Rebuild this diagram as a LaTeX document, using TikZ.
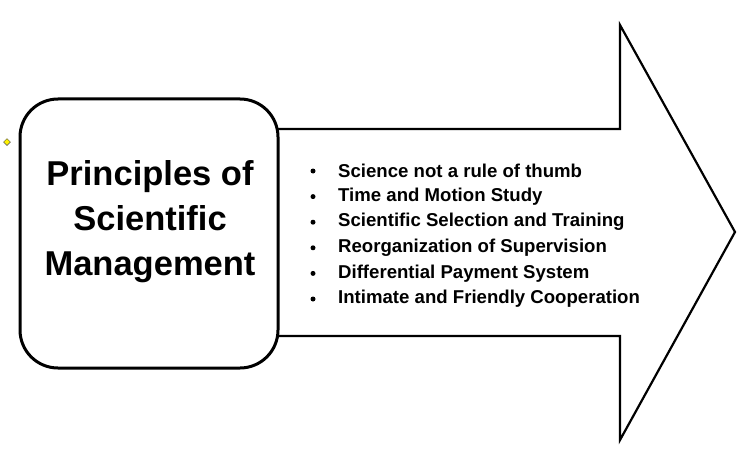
\documentclass[tikz,border=0pt]{standalone}
\usepackage{fontspec}
\setmainfont{Liberation Sans}
\usetikzlibrary{shapes.geometric}
\begin{document}
\begin{tikzpicture}[x=1pt,y=-1pt,
  bigarrow/.style={draw=black,line width=2.2pt,fill=white,line join=miter},
  titlebox/.style={draw=black,line width=3pt,fill=white,rounded corners=38pt},
  item/.style={anchor=west,font=\bfseries\fontsize{18.6pt}{20pt}\selectfont,inner sep=0pt},
  dot/.style={circle,fill=black,inner sep=0pt,minimum size=5pt},
  handle/.style={diamond,draw=black!70,fill=yellow,inner sep=0pt,minimum size=7pt,line width=0.5pt}]
\useasboundingbox (0,0) rectangle (746,468);
\draw[bigarrow] (200,129) -- (620,129) -- (620,25) -- (735,232) -- (620,440) -- (620,336) -- (200,336) -- cycle;
\draw[titlebox] (20,99) rectangle (278,368);
\node[align=center,font=\bfseries\fontsize{34.5pt}{45pt}\selectfont] (title) at (150,222) {Principles of\\Scientific\\Management};
\foreach \t [count=\i] in {Science not a rule of thumb,Time and Motion Study,Scientific Selection and Training,Reorganization of Supervision,Differential Payment System,Intimate and Friendly Cooperation}{
  \node[dot] (b\i) at (313,{171+25.6*(\i-1)}) {};
  \node[item] (t\i) at (338,{171+25.6*(\i-1)}) {\t};
}
\node[handle] (h) at (7,142) {};
\end{tikzpicture}
\end{document}
